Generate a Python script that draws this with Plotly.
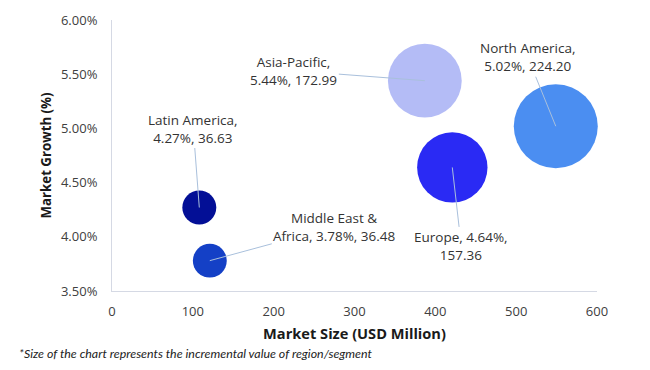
import plotly.graph_objects as go

regions = ["Latin America", "Middle East & Africa", "Asia-Pacific", "Europe", "North America"]
market_size = [108, 121, 387, 421, 549]
market_growth = [4.27, 3.78, 5.44, 4.64, 5.02]
incremental = [36.63, 36.48, 172.99, 157.36, 224.20]
colors = ["#030f96", "#1440c6", "#b4bcf6", "#2a2af4", "#4b8ef1"]
label_text = [
    "Latin America,<br>4.27%, 36.63",
    "Middle East &<br>Africa, 3.78%, 36.48",
    "Asia-Pacific,<br>5.44%, 172.99",
    "Europe, 4.64%,<br>157.36",
    "North America,<br>5.02%, 224.20",
]
label_offsets = [(-6, -79), (125, -34), (-131, -10), (9, 79), (-28, -69)]
x_ticks = [0, 100, 200, 300, 400, 500, 600]
y_ticks = [3.5, 4.0, 4.5, 5.0, 5.5, 6.0]
y_tick_labels = ["3.50%", "4.00%", "4.50%", "5.00%", "5.50%", "6.00%"]

max_diam = 84
sizeref = 2.0 * max(incremental) / (max_diam ** 2)

fig = go.Figure()
fig.add_trace(go.Scatter(
    x=market_size, y=market_growth, mode="markers",
    marker=dict(size=incremental, sizemode="area", sizeref=sizeref,
                color=colors, opacity=1, line=dict(width=0)),
    hoverinfo="skip", showlegend=False, cliponaxis=False,
))

for xv, yv, txt, (ax, ay) in zip(market_size, market_growth, label_text, label_offsets):
    fig.add_annotation(
        x=xv, y=yv, text=txt, showarrow=True, arrowhead=0, arrowwidth=1,
        arrowcolor="#a9c0dc", ax=ax, ay=ay,
        font=dict(family="Open Sans", size=13.5, color="#333333"),
        align="center",
    )

fig.add_annotation(
    xref="paper", yref="paper", x=-0.196, y=-0.229, xanchor="left", yanchor="middle",
    text="<i>*Size of the chart represents the incremental value of region/segment</i>",
    showarrow=False, font=dict(family="Lato", size=12.4, color="#222222"),
)

fig.update_layout(
    width=650, height=370,
    margin=dict(l=104, r=61, t=12, b=87, autoexpand=False),
    paper_bgcolor="white", plot_bgcolor="white",
    font=dict(family="Open Sans", size=13, color="#404040"),
    xaxis=dict(range=[0, 600], tickvals=x_ticks, showgrid=False, zeroline=False,
               showline=True, linecolor="#d5d9e4", linewidth=1, automargin=False,
               ticklabelstandoff=8,
               title=dict(text="<b>Market Size (USD Million)</b>",
                          font=dict(size=14.6, color="#1a1a1a"), standoff=10)),
    yaxis=dict(range=[3.5, 6.0], tickvals=y_ticks, ticktext=y_tick_labels,
               showgrid=False, zeroline=False, automargin=False,
               showline=True, linecolor="#d5d9e4", linewidth=1,
               ticklabelstandoff=11,
               title=dict(text="<b>Market Growth (%)</b>",
                          font=dict(size=13.3, color="#1a1a1a"), standoff=6)),
)

fig.write_html("out.html")
